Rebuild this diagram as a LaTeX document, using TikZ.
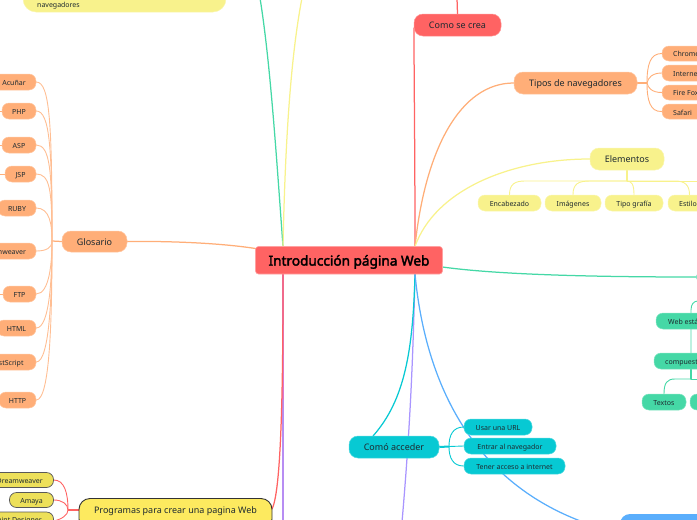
\documentclass[tikz,border=0pt]{standalone}
\usepackage{fontspec}
\setmainfont{Noto Sans}
\newfontfamily\boldface{Noto Sans}[FakeBold=2.5]
\usetikzlibrary{backgrounds}
\definecolor{cRed}{HTML}{FF6363}
\definecolor{cOrange}{HTML}{FFAE78}
\definecolor{cYellow}{HTML}{F8F28C}
\definecolor{cGreen}{HTML}{45D8A6}
\definecolor{cCyan}{HTML}{07C9D3}
\definecolor{cBlue}{HTML}{5AAEFC}
\definecolor{cPurple}{HTML}{A995FF}
\definecolor{cPink}{HTML}{D679D6}
\definecolor{cPaleY}{HTML}{FDEA5F}
\definecolor{cDimY}{HTML}{EDE05A}
\definecolor{cText}{HTML}{1E2A30}
\tikzset{
 box/.style={rectangle,inner sep=0pt,text=cText,text height=6.4pt,text depth=0pt,font=\fontsize{7}{8}\selectfont},
 big/.style={font=\fontsize{9}{10}\selectfont,text height=7.4pt,text depth=0pt},
 sm/.style={box,rounded corners=7pt},
 mid/.style={box,big,rounded corners=9pt},
 oS/.style={sm,fill=cOrange,draw=cOrange!70!white,line width=.5pt},
 oM/.style={mid,fill=cOrange,draw=cOrange!70!white,line width=.5pt},
 yS/.style={sm,fill=cYellow,draw=cYellow!70!white,line width=.5pt},
 yM/.style={mid,fill=cYellow,draw=cYellow!70!white,line width=.5pt},
 gS/.style={sm,fill=cGreen,draw=cGreen!70!white,line width=.5pt},
 cS/.style={sm,fill=cCyan,draw=cCyan!70!white,line width=.5pt},
 cM/.style={mid,fill=cCyan,draw=cCyan!70!white,line width=.5pt},
 dY/.style={sm,fill=cDimY,draw=black!65,line width=.7pt},
 pY/.style={mid,fill=cPaleY,draw=black!80,line width=.9pt,rounded corners=11pt},
 txt/.style={inner sep=0pt,text=cText,text height=6.4pt,text depth=0pt,font=\fontsize{7}{8}\selectfont,anchor=west},
 main/.style={line width=1.25pt,line cap=round},
 thin1/.style={line width=.9pt,line cap=round},
 thick1/.style={line width=2pt},
}
\newcommand{\bx}[7]{\node[#2,minimum width={(#4-#3)*1pt},minimum height={(#6-#5)*1pt}] (#1) at ({(#3+#4)/2},{(#5+#6)/2}) {#7};}
\begin{document}
\begin{tikzpicture}[x=1pt,y=-1pt]
\useasboundingbox (0,0) rectangle (697,520);
\clip (0,0) rectangle (697,520);
% central
\bx{ctr}{box,fill=cRed,draw=cRed!60!white,line width=.6pt,rounded corners=3pt,text=black,text height=10.6pt,font=\fontsize{13.6}{15}\boldface}{255.5}{442.5}{246.5}{274}{Introducción página Web}
% top left
\bx{nav}{yM,rounded corners=13pt}{23}{226}{-30}{12}{}
\node[txt] (navT) at (37,4) {navegadores};
% red / browser side
\bx{crea}{mid,fill=cRed,draw=cRed!70!white,line width=.5pt,rounded corners=9pt}{414}{501}{14}{36}{Como se crea}
\bx{tipos}{oM}{514}{637}{72}{94}{Tipos de navegadores}
\bx{t1}{oS}{662}{740}{46}{61}{}
\bx{t2}{oS}{662}{760}{65}{81}{}
\bx{t3}{oS}{662}{740}{85}{100}{}
\bx{t4}{oS}{662}{740}{104}{119}{}
\node[txt] (t1T) at (673,53.5) {Chrome};
\node[txt] (t2T) at (673,73) {Internet Explorer};
\node[txt] (t3T) at (673,92.5) {Fire Fox};
\node[txt] (t4T) at (673,112) {Safari};
% elementos
\bx{el}{yM}{590}{664}{148}{170}{Elementos}
\bx{e1}{yS}{478}{541}{195}{211}{Encabezado}
\bx{e2}{yS}{545}{601}{195}{211}{Imágenes}
\bx{e3}{yS}{605}{663}{195}{211}{Tipo grafía}
\bx{e4}{yS}{668}{740}{195}{211}{}
\node[txt] (e4T) at (679,203) {Estilos};
% green
\bx{gw}{gS}{696.5}{800}{272}{282}{}
\bx{g1}{gS}{656}{760}{313}{329}{}
\node[txt] (g1T) at (668,321) {Web estática};
\bx{g2}{gS}{654}{760}{353}{369}{}
\node[txt] (g2T) at (665,361) {compuesta};
\bx{g3}{gS}{642}{686}{394}{410}{Textos}
\bx{g4}{gS}{690}{760}{394}{410}{}
% cyan
\bx{ac}{cM}{349}{439}{436}{458}{Comó acceder}
\bx{c1}{cS}{464}{532}{419}{435}{Usar una URL}
\bx{c2}{cS}{464}{556}{438}{454}{Entrar al navegador}
\bx{c3}{cS}{464}{565}{458}{474}{Tener acceso a internet}
% blue
\bx{bl}{mid,fill=cBlue,rounded corners=10pt}{620}{760}{514}{545}{}
% glosario
\bx{glo}{oM}{62}{127}{231}{252}{Glosario}
\bx{a1}{oS}{-8}{36}{74}{90}{Acuñar}
\bx{a2}{oS}{2}{36}{103}{119}{PHP}
\bx{a3}{oS}{2}{36}{137}{153}{ASP}
\bx{a4}{oS}{5}{36}{166}{182}{JSP}
\bx{a5}{oS}{-2}{36}{200}{216}{RUBY}
\bx{a6}{oS}{-30}{36}{243}{259}{Dreamweaver}
\bx{a7}{oS}{3}{36}{286}{302}{FTP}
\bx{a8}{oS}{-3}{36}{320}{336}{HTML}
\bx{a9}{oS}{-22}{36}{354}{370}{PostScript}
\bx{a10}{oS}{-1}{36}{392}{408}{HTTP}
% programas
\bx{pr}{pY}{79}{272}{498.5}{530}{}
\node[inner sep=0pt,text=cText,text height=7.4pt,text depth=0pt,font=\fontsize{9}{10}\selectfont] (prT) at (175.5,510) {Programas para crear una pagina Web};
\bx{p1}{dY}{-14}{53.5}{472.5}{487.5}{Dreamweaver}
\bx{p2}{dY}{9.5}{53.5}{492.5}{507.5}{Amaya}
\bx{p3}{dY}{-20}{53.5}{512}{530}{}
\node[inner sep=0pt,text=cText,text height=6.4pt,text depth=0pt,font=\fontsize{7}{8}\selectfont,anchor=east] (p3T) at (42,519) {Paint Designer};
% connector points
\coordinate (up1) at (260,-2);
\coordinate (up2) at (302,-2);
\coordinate (dn1) at (283,522);
\coordinate (dn2) at (402,522);
\coordinate (dn3) at (583,522);
\coordinate (ct) at (415,246.5);
\coordinate (cb) at (415,274);
\coordinate (cl) at (283,246.5);
\coordinate (clb) at (283,274);
\coordinate (gb) at (52,241);
\coordinate (ob) at (647,83);
\coordinate (cy) at (449,446.5);
\coordinate (rb) at (68,510);
\coordinate (eh) at (627,181);
\coordinate (gh) at (691,379);
\coordinate (crt) at (457,-2);
\coordinate (rmid) at (283,400);
\begin{pgfonlayer}{background}
\clip (0,0) rectangle (697,520);
% central connectors
\draw[main,cGreen] (cl) .. controls (276,150) and (270,60) .. (up1);
\draw[main,cYellow] (cl) .. controls (285,150) and (290,60) .. (up2);
\draw[main,cPink] (clb) -- (rmid);
\draw[main,cPurple!70!cPink] (rmid) -- (dn1);
\draw[main,cRed] (clb) .. controls (283,370) and (282,490) .. (272,509);
\draw[main,cPurple] (cb) .. controls (413,360) and (410,430) .. (dn2);
\draw[main,cCyan] (cb) .. controls (413,350) and (405,400) .. (373,436);
\draw[main,cBlue] (cb) .. controls (425,380) and (470,480) .. (dn3);
\draw[main,cRed] (ct) .. controls (415,150) and (414,80) .. (414,28);
\draw[main,cRed] (crt) -- (crea.north);
\draw[main,cOrange] (ct) .. controls (425,150) and (460,83) .. (tipos.west);
\draw[main,cYellow] (ct) .. controls (435,190) and (510,159) .. (el.west);
\draw[main,cGreen] (442.5,267) .. controls (500,275) and (600,277) .. (gw.west);
\draw[main,cOrange] (glo.west) -- (gb);
\draw[main,cOrange] (glo.east) .. controls (170,241) and (220,243) .. (255.5,248.5);
% browsers
\draw[thick1,cOrange] (tipos.east) -- (ob);
\draw[thin1,cOrange] (ob) .. controls (647,65) and (650,53.5) .. (t1.west);
\draw[thin1,cOrange] (ob) .. controls (648,78) and (652,73) .. (t2.west);
\draw[thin1,cOrange] (ob) .. controls (648,88) and (652,92.5) .. (t3.west);
\draw[thin1,cOrange] (ob) .. controls (647,100) and (650,112) .. (t4.west);
% elementos
\draw[thick1,cYellow] (el.south) -- (eh);
\draw[thin1,cYellow] (eh) -- (525,181) .. controls (515,181) and (509.5,184) .. (e1.north);
\draw[thin1,cYellow] (eh) -- (590,181) .. controls (578,181) and (573,184) .. (e2.north);
\draw[thin1,cYellow] (eh) .. controls (632,181) and (634,185) .. (e3.north);
\draw[thin1,cYellow] (eh) -- (675,181) .. controls (685,181) and (689.5,185) .. (689.5,195);
\draw[thin1,cYellow] (eh) -- (697,181);
% green tree
\draw[thin1,cGreen] (691,369) -- (691,310) .. controls (691,304) and (694,301) .. (698,301);
\draw[thin1,cGreen,line width=1.3pt] (691,369) -- (gh);
\draw[thin1,cGreen] (gh) -- (675,379) .. controls (667,379) and (664,383) .. (g3.north);
\draw[thin1,cGreen] (gh) -- (698,379);
% cyan
\draw[thick1,cCyan] (ac.east) -- (cy);
\draw[thin1,cCyan] (cy) -- (c2.west);
\draw[thin1,cCyan] (cy) .. controls (449,435) and (453,427) .. (c1.west);
\draw[thin1,cCyan] (cy) .. controls (449,458) and (453,466) .. (c3.west);
% glosario children
\foreach \n/\cx/\cy in {a1/82/125,a2/111/150,a3/145/170,a4/174/190,a5/208/225}{
 \draw[thin1,cOrange!80!white] (gb) .. controls (52,\cy) and (50,\cx) .. (\n.east);}
\draw[thin1,cOrange!80!white] (gb) .. controls (52,248) and (46,251) .. (a6.east);
\foreach \n/\cx/\cy in {a7/294/260,a8/328/275,a9/362/290,a10/400/320}{
 \draw[thin1,cOrange!80!white] (gb) .. controls (52,\cy) and (50,\cx) .. (\n.east);}
\draw[thin1,cOrange] (0,111) -- (a2.west);
\draw[thin1,cOrange] (0,145) -- (a3.west);
\draw[thin1,cOrange] (0,174) -- (a4.west);
\draw[thin1,cOrange] (0,294) -- (a7.west);
% programas children
\draw[thick1,cRed] (pr.west |- rb) -- (rb);
\draw[thin1,cRed] (rb) .. controls (68,492) and (64,480) .. (p1.east);
\draw[thin1,cRed] (rb) .. controls (68,504) and (62,500) .. (p2.east);
\draw[thin1,cRed] (rb) .. controls (68,515) and (62,519) .. (p3.east);
\end{pgfonlayer}
\end{tikzpicture}
\end{document}
